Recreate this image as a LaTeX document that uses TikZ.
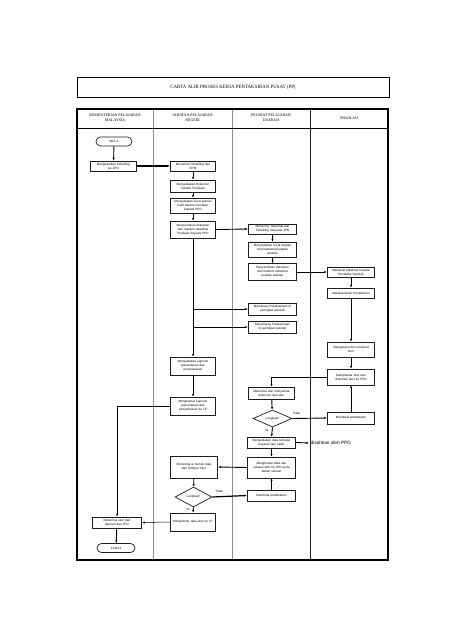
\documentclass[tikz,border=0pt]{standalone}
\usepackage{fontspec}
\setmainfont{Liberation Serif}
\newfontfamily\boxfont{Liberation Sans}
\usetikzlibrary{arrows.meta,shapes.geometric}
\definecolor{lane}{HTML}{8E8E8E}
\definecolor{garis}{HTML}{1E1E1E}

\begin{document}
\begin{tikzpicture}[x=1pt, y=-1pt, >={Latex[length=2.6pt,width=2.2pt]},
  proses/.style={draw=garis, line width=0.7pt, align=center, inner sep=0.8pt,
    text width=#1, font=\boxfont\fontsize{3.1}{4}\selectfont},
  proses/.default=44pt,
  terminal/.style={draw=garis, line width=0.7pt, rounded corners=4.5pt, minimum width=36pt,
    minimum height=9pt, inner sep=0pt, font=\fontsize{3.2}{4}\selectfont},
  semakan/.style={diamond, draw=garis, line width=0.7pt, inner sep=0pt,
    font=\boxfont\fontsize{3.1}{4}\selectfont},
  kepala/.style={align=center, font=\fontsize{3.9}{4.6}\selectfont},
  aliran/.style={->, line width=0.9pt},
  nipis/.style={->, line width=0.5pt},
  label/.style={font=\boxfont\fontsize{3}{3.6}\selectfont}]
  \useasboundingbox (0,0) rectangle (474,632);

  % tajuk
  \draw[line width=0.9pt] (77,77) rectangle (389,97);
  \node[font=\fontsize{4.9}{6}\selectfont] (tajuk) at (233,87) {CARTA ALIR PROSES KERJA PENTAKSIRAN PUSAT (PP)};

  % jadual dan lajur
  \draw[lane, line width=0.9pt] (153,109) -- (153,560) (232,109) -- (232,560);
  \draw[garis, line width=0.9pt] (310,109) -- (310,560);
  \draw[line width=0.8pt] (77,128) -- (388,128);
  \draw[line width=1.2pt] (77,109) rectangle (388,560);
  \node[kepala] (kpm) at (115,118) {KEMENTERIAN PELAJARAN\\MALAYSIA};
  \node[kepala] (jpn) at (192.5,118) {JABATAN PELAJARAN\\NEGERI};
  \node[kepala] (ppd) at (271,118) {PEJABAT PELAJARAN\\DAERAH};
  \node[kepala] (sek) at (349,118) {SEKOLAH};

  % KPM
  \node[terminal] (mula) at (114,141.5) {MULA};
  \node[proses=45pt, minimum height=10pt] (edar) at (113.5,166) {Mengedarkan Pekeliling\\ke JPN};
  \node[proses=48pt, minimum height=11pt] (terimaK) at (117,522.5) {Menerima skor dan\\laporan dari JPN};
  \node[terminal, minimum width=38pt] (tamat) at (116,548) {TAMAT};

  % JPN
  \node[proses, minimum height=10pt] (terimaJ) at (193,166) {Menerima Pekeliling dari\\KPM};
  \node[proses, minimum height=12pt] (takwimJ) at (193,186) {Menyediakan Dokumen\\Takwim Penilaian};
  \node[proses, minimum height=15pt] (suratJ) at (193,205.5) {Menyediakan surat arahan\\hasil takwim Penilaian\\kepada PPD};
  \node[proses, minimum height=17pt] (serahJ) at (193,229.5) {Menyerahkan dokumen\\dan maklum takwimat\\Penilaian kepada PPD};
  \node[proses, minimum height=18pt] (laporJ) at (193,366) {Menyediakan Laporan\\pemantauan dan\\penyelarasan};
  \node[proses, minimum height=18pt] (hantarJ) at (193,406) {Menghantar Laporan\\pemantauan dan\\penyelarasan ke LP};
  \node[proses=46pt, minimum height=22pt] (semakJ) at (194,467) {Menerima \& Semak data\\dan Simpan Skor};
  \node[semakan, minimum width=37pt, minimum height=20pt] (lengkapJ) at (193.5,497) {Lengkap?};
  \node[proses, minimum height=18pt] (skorJ) at (193,522) {Menghantar data skor ke LP};

  % PPD
  \node[proses=47pt, minimum height=10pt] (terimaP) at (272.5,229) {Menerima Takwimat dan\\Pekeliling daripada JPN};
  \node[proses=47pt, minimum height=15pt] (suratP) at (272.5,249.5) {Menyediakan surat arahan\\hasil takwimat kepada\\sekolah};
  \node[proses=47pt, minimum height=17pt] (serahP) at (272.5,272) {Menyerahkan dokumen\\dan maklum takwimat\\kepada sekolah};
  \node[proses=47pt, minimum height=12pt] (pantauP) at (272.5,309) {Memantau Pelaksanaan di\\peringkat sekolah};
  \node[proses=47pt, minimum height=12pt] (selarasP) at (272.5,327) {Menyelaras Pelaksanaan\\di peringkat sekolah};
  \node[proses=45pt, minimum height=12pt] (semakP) at (271.5,393) {Menerima dan menyemak\\dokumen dan skor};
  \node[semakan, minimum width=39pt, minimum height=17pt] (lengkapP) at (272.5,418.5) {Lengkap?};
  \node[proses=47pt, minimum height=11pt] (tuntutP) at (271.5,442.5) {Menyediakan data tuntutan\\bayaran dan salah};
  \node[proses=47pt, minimum height=21pt] (hantarP) at (271.5,467.5) {Menghantar data dan\\catatan skor ke JPN serta\\bahan salinan};
  \node[proses=47pt, minimum height=11pt] (betulP) at (271.5,495.5) {Membuat pembetulan};
  \node[anchor=west, inner sep=1.5pt, font=\boxfont\fontsize{4.7}{5.5}\selectfont] (sah) at (309,443) {disahkan oleh PPD};

  % Sekolah
  \node[proses=46pt, minimum height=10pt] (takwimS) at (351,272) {Membuat takwimat kepada\\Pentadbir Sekolah};
  \node[proses=46pt, minimum height=10pt] (laksanaS) at (351,293) {Melaksanakan Pentaksiran};
  \node[proses=46pt, minimum height=15pt] (kumpulS) at (351,349.5) {Mengumpul dan merekod\\skor};
  \node[proses=46pt, minimum height=16pt] (hantarS) at (351,377) {Menghantar skor dan\\dokumen skor ke PPD};
  \node[proses=46pt, minimum height=12pt] (betulS) at (351,418) {Membuat pembetulan};

  % titik cabang
  \coordinate (cabang1) at (serahJ.south |- pantauP.west);
  \coordinate (cabang2) at (serahJ.south |- selarasP.west);

  % aliran
  \draw[aliran] (mula) -- (edar);
  \draw[aliran, line width=1.3pt] (edar) -- (terimaJ);
  \draw[aliran] (terimaJ) -- (takwimJ);
  \draw[aliran] (takwimJ) -- (suratJ);
  \draw[aliran] (suratJ) -- (serahJ);
  \draw[aliran] (serahJ.east) -- (terimaP.west);
  \draw[aliran] (terimaP) -- (suratP);
  \draw[aliran] (suratP) -- (serahP);
  \draw[aliran] (serahP.east) -- (takwimS.west);
  \draw[aliran] (takwimS) -- (laksanaS);
  \draw[aliran] (laksanaS) -- (kumpulS);
  \draw[aliran] (kumpulS) -- (hantarS);
  \draw[aliran] (serahJ) -- (laporJ);
  \draw[aliran] (cabang1) -- (pantauP.west);
  \draw[aliran] (cabang2) -- (selarasP.west);
  \draw[aliran] (laporJ) -- (hantarJ);
  \draw[nipis] (hantarJ.west) -| (terimaK.north);
  \draw[nipis] (hantarS.west) -| (semakP.north);
  \draw[aliran] (semakP) -- (lengkapP);
  \draw[aliran] (lengkapP.east) -- node[label, above, pos=0.12] {Tidak} (betulS.west);
  \draw[nipis] (betulS) -- (hantarS);
  \draw[aliran] (lengkapP.south) -- node[label, left, pos=0.35] {Ya} (tuntutP.north);
  \draw[aliran] (tuntutP.east) -- (sah.west);
  \draw[aliran] (tuntutP) -- (hantarP);
  \draw[aliran] (betulP) -- (hantarP);
  \draw[aliran] (hantarP.west) -- (semakJ.east);
  \draw[aliran] (semakJ) -- (lengkapJ);
  \draw[aliran, line width=1.2pt] (lengkapJ.east) -- node[label, above, pos=0.2] {Tidak} (betulP.west);
  \draw[aliran] (lengkapJ.south) -- node[label, left, pos=0.4] {Ya} (skorJ.north);
  \draw[nipis] (skorJ.west) -- (terimaK.east);
  \draw[aliran] (terimaK) -- (tamat);
\end{tikzpicture}
\end{document}
